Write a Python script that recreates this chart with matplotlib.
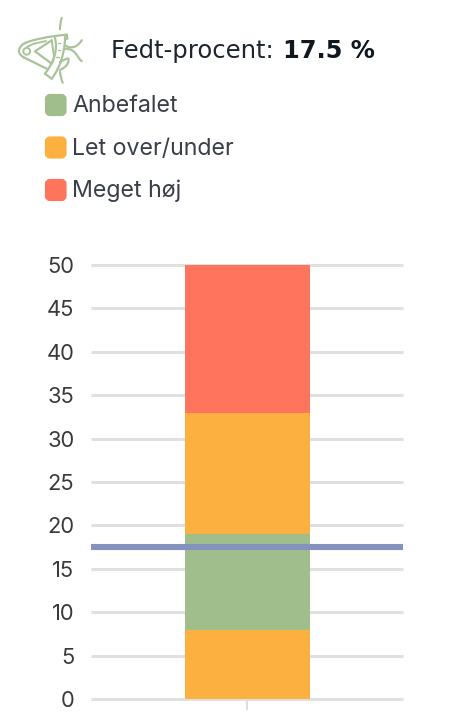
import numpy as np
import matplotlib
matplotlib.use("Agg")
import matplotlib.pyplot as plt
from matplotlib.patches import FancyBboxPatch, PathPatch, Circle
from matplotlib.path import Path

W, H = 474, 721
segment_heights = [8, 11, 14, 17]
segment_colors = ["#FBB040", "#A0BD8C", "#FBB040", "#FF745C"]
y_ticks = list(range(0, 55, 5))
marker_value = 17.5
legend_labels = ["Anbefalet", "Let over/under", "Meget høj"]
legend_colors = ["#A0BD8C", "#FBB040", "#FF745C"]
title_normal = "Fedt-procent: "
title_bold = "17.5 %"

fig = plt.figure(figsize=(W / 100, H / 100), dpi=100, facecolor="white")
x0, x1, ytop, ybot = 91, 403, 265, 699
ax = fig.add_axes([x0 / W, 1 - ybot / H, (x1 - x0) / W, (ybot - ytop) / H])
ax.set_xlim(-0.5, 0.5)
ax.set_ylim(0, 50)
bottom = 0
for h, c in zip(segment_heights, segment_colors):
    ax.bar(0.002, h, width=0.4, bottom=bottom, color=c, linewidth=0, zorder=3)
    bottom += h
ax.axhline(marker_value, color="#8592BE", lw=4.4, zorder=4, solid_capstyle="butt")
ax.set_yticks(y_ticks)
ax.yaxis.grid(True, color="#E0E0E0", lw=2.2, zorder=1, solid_capstyle="butt")
ax.set_axisbelow(True)
for s in ax.spines.values():
    s.set_visible(False)
for g in ax.get_ygridlines():
    g.set_clip_on(False)
ax.tick_params(axis="y", length=0, pad=12, labelsize=15.8, labelcolor="#3A3A3A")
for t in ax.get_yticklabels():
    t.set_fontfamily("Inter")
ax.set_xticks([0])
ax.set_xticklabels([""])
ax.tick_params(axis="x", length=8, width=1.2, color="#D8D8D8", pad=0)

ov = fig.add_axes([0, 0, 1, 1], zorder=5)
ov.set_xlim(0, W)
ov.set_ylim(H, 0)
ov.axis("off")

ov.text(111, 51, title_normal, family="DejaVu Sans", fontsize=17.5,
        color="#1E2530", va="center", ha="left")
ov.text(283, 51, title_bold, family="DejaVu Sans", fontsize=17.4, fontweight="bold",
        color="#10161E", va="center", ha="left")

for y, lab, c in zip([105, 147.5, 190], legend_labels, legend_colors):
    ov.add_patch(FancyBboxPatch((47, y - 9), 17.5, 18, boxstyle="round,pad=0,rounding_size=3",
                                mutation_aspect=1, fc=c, ec=c, lw=3))
    ov.text(72, y + 1, lab, family="Inter", fontsize=16.7, color="#3A3F4A",
            va="center", ha="left")

# decorative icon
icon = "#A9C39A"
M, C, L = Path.MOVETO, Path.CURVE4, Path.LINETO
def curve(pts, lw=1.6):
    codes = [M] + [C] * (len(pts) - 1)
    ov.add_patch(PathPatch(Path(pts, codes), fc="none", ec=icon, lw=lw, capstyle="round"))
def poly(pts, lw=1.6):
    ov.plot([p[0] for p in pts], [p[1] for p in pts], color=icon, lw=lw,
            solid_capstyle="round", solid_joinstyle="round")
curve([(66.7, 34.7), (50, 36), (30, 40), (23.3, 44)])
curve([(23.3, 44), (17, 49), (18, 54), (24, 57.5)])
poly([(24, 57.5), (46.7, 68.7)])
poly([(51.7, 40.3), (35, 51.3), (51.7, 63.7)])
poly([(46, 41), (33, 44), (27, 47)], 1.4)
poly([(51.7, 40.3), (54, 56), (53, 62)], 1.4)
curve([(55, 38), (58, 50), (54, 62), (45, 73.7)])
curve([(65, 37), (65, 52), (60, 68), (51.7, 78.7)])
poly([(45, 73.7), (51.7, 78.7)])
poly([(66.7, 34.7), (67.5, 38.5), (65, 39.5)])
ov.add_patch(Circle((26.7, 51.3), 3.4, fc="none", ec=icon, lw=1.4))
curve([(61.7, 18), (60.5, 22), (60, 26), (60, 29.3)])
curve([(60, 72), (60.5, 76), (61.5, 80), (62.7, 82.7)])
curve([(65, 45.3), (72, 50), (78, 46), (81.7, 40.3)])
curve([(65, 48.7), (76, 49), (76, 56), (81.7, 61.3)])
curve([(60, 62), (64, 60), (67, 58), (68.3, 58.7)])
curve([(68.3, 58.7), (69, 62), (68, 66), (60, 70)])
poly([(58, 43), (60, 43)], 1.0)
poly([(58, 50), (60, 50)], 1.0)
poly([(56.5, 57), (59, 57)], 1.0)

fig.savefig("out.png", dpi=100, facecolor="white")
